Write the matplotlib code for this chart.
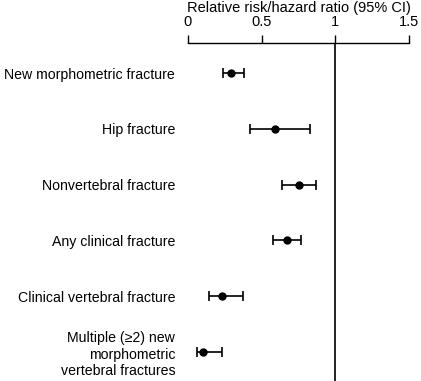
import numpy as np
import matplotlib.pyplot as plt

plt.rcParams['font.family'] = ['Liberation Sans', 'DejaVu Sans']

# data
outcomes = [
    "New morphometric fracture",
    "Hip fracture",
    "Nonvertebral fracture",
    "Any clinical fracture",
    "Clinical vertebral fracture",
    "Multiple (\u22652) new\nmorphometric\nvertebral fractures",
]
estimate = [0.29, 0.59, 0.75, 0.67, 0.23, 0.10]
ci_low = [0.235, 0.42, 0.64, 0.58, 0.14, 0.06]
ci_high = [0.38, 0.83, 0.87, 0.77, 0.37, 0.23]
xticks = [0, 0.5, 1, 1.5]
xticklabels = ["0", "0.5", "1", "1.5"]

est = np.array(estimate)
lo = est - np.array(ci_low)
hi = np.array(ci_high) - est
ypos = np.arange(len(outcomes))

fig = plt.figure(figsize=(4.21, 3.81), dpi=100)
ax = fig.add_axes([188 / 421, 0, 221 / 421, 1 - 43 / 381])

ax.errorbar(est, ypos, xerr=[lo, hi], fmt='o', color='black', ms=5,
            elinewidth=1.2, capsize=3.5, capthick=1.2)
ax.axvline(1, color='#222222', lw=1.4)

ax.set_xlim(0, 1.5)
ax.set_ylim(5.52, -0.538)

ax.xaxis.tick_top()
ax.xaxis.set_label_position('top')
ax.set_xticks(xticks)
ax.set_xticklabels(xticklabels, fontsize=10.5)
ax.tick_params(axis='x', direction='out', length=6, width=1, pad=4)
ax.set_xlabel("Relative risk/hazard ratio (95% CI)", fontsize=10.5, labelpad=2)

ax.set_yticks(ypos)
ax.set_yticklabels(outcomes, fontsize=10.2, ha='right')
ax.tick_params(axis='y', length=0, pad=9.2)

for s in ['left', 'right', 'bottom']:
    ax.spines[s].set_visible(False)
ax.spines['top'].set_linewidth(1)

fig.savefig("out.png", dpi=100)
